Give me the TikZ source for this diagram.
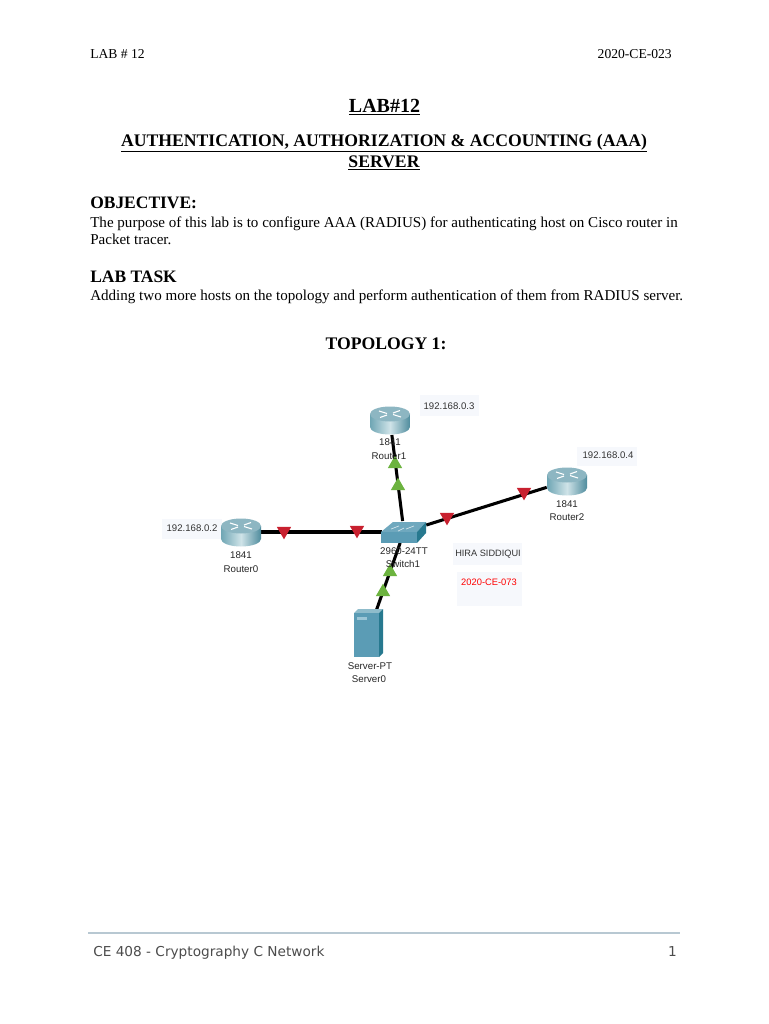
\documentclass[tikz,border=0pt]{standalone}
\usepackage{fontspec}
\setmainfont{Liberation Serif}
\newfontfamily\dgmfont{Liberation Sans}
\newfontfamily\footfont{DejaVu Sans}
\usetikzlibrary{shapes.geometric}
\definecolor{paleb}{HTML}{F6F8FC}
\definecolor{redt}{HTML}{C8202F}
\definecolor{greent}{HTML}{6CB33F}
\definecolor{rtop}{HTML}{8DB6C2}
\definecolor{rleft}{HTML}{6FA6B4}
\definecolor{rmid}{HTML}{CFE3E8}
\definecolor{rright}{HTML}{4F8C9D}
\definecolor{devtop}{HTML}{6FA8BE}
\definecolor{devfront}{HTML}{5B9CB5}
\definecolor{devside}{HTML}{27798F}
\definecolor{srvtop}{HTML}{8FBCCB}
\definecolor{bay}{HTML}{9CC6D6}
\definecolor{rulec}{HTML}{B8C8D2}
\tikzset{
  body/.style={anchor=base west,inner sep=0pt,font=\fontsize{11.3}{13}\selectfont},
  small/.style={anchor=base west,inner sep=0pt,font=\fontsize{10.2}{12}\selectfont},
  head/.style={anchor=base west,inner sep=0pt,font=\fontsize{13.1}{15}\selectfont\bfseries},
  ctitle/.style={anchor=base,inner sep=0pt,font=\fontsize{13.25}{15}\selectfont\bfseries},
  dev/.style={font=\dgmfont\fontsize{7.3}{8}\selectfont,inner sep=0pt,anchor=base,text=black!85},
  ip/.style={font=\dgmfont\fontsize{7.2}{8}\selectfont,inner sep=0pt,text=black!80},
  devbox/.style={inner sep=0pt,draw=none},
  link/.style={line width=2.3pt,black},
  tdown/.style={regular polygon,regular polygon sides=3,shape border rotate=180,fill=redt,inner sep=0pt,minimum size=12.5pt},
  tup/.style={regular polygon,regular polygon sides=3,fill=greent,inner sep=0pt,minimum size=12.5pt},
  pics/routericon/.style={code={
    \shade[left color=rleft,right color=rright,middle color=rmid,draw=none]
      (-20,-6) -- (-20,7) arc[start angle=180,end angle=0,x radius=20,y radius=7.5] -- (20,-6) -- cycle;
    \fill[rtop] (0,-6) ellipse[x radius=20,y radius=7.5];
    \draw[white,line width=.8pt] (-11,-9) -- (-3,-6.5) (11,-3) -- (3,-5.5) (-10,-2.5) -- (-3,-5) (10,-9.5) -- (3,-7);
  }}
}
\begin{document}
\begin{tikzpicture}[x=0.75pt,y=-0.75pt]
\useasboundingbox (0,0) rectangle (768,1024);
\fill[white] (0,0) rectangle (768,1024);

% page text
\node[small] (hl) at (90,59) {LAB \# 12};
\node[small,anchor=base east] (hr) at (672,59) {2020-CE-023};
\node[ctitle,font=\fontsize{15}{17}\selectfont\bfseries] (t1) at (384.5,112.5) {\underline{LAB\#12}};
\node[ctitle] (t2) at (384,146) {\underline{AUTHENTICATION, AUTHORIZATION \& ACCOUNTING (AAA)}};
\node[ctitle] (t3) at (384,167) {\underline{SERVER}};
\node[head] (obj) at (90,208) {OBJECTIVE:};
\node[body] (o1) at (90,227) {The purpose of this lab is to configure AAA (RADIUS) for authenticating host on Cisco router in};
\node[body] (o2) at (90,244) {Packet tracer.};
\node[head] (lt) at (90,282) {LAB TASK};
\node[body] (l1) at (90,300) {Adding two more hosts on the topology and perform authentication of them from RADIUS server.};
\node[ctitle] (topo) at (386,349) {TOPOLOGY 1:};

% label backgrounds
\fill[paleb] (162,519) rectangle (222,539);
\fill[paleb] (420,395) rectangle (479,416);
\fill[paleb] (577,447) rectangle (637,466);
\fill[paleb] (453,543) rectangle (522,565);
\fill[paleb] (457,572) rectangle (522,606);

% device anchors
\node[devbox,minimum width=30pt,minimum height=22pt] (r0) at (241,532) {};
\node[devbox,minimum width=30pt,minimum height=22pt] (r1) at (390,420) {};
\node[devbox,minimum width=30pt,minimum height=22pt] (r2) at (567,481) {};
\node[devbox,minimum width=33pt,minimum height=16pt] (sw) at (404,532) {};
\node[devbox,minimum width=22pt,minimum height=36pt] (srv) at (368,634) {};

% links
\draw[link] (r0) -- (sw);
\draw[link] (r1) -- (sw);
\draw[link] (r2) -- (sw);
\draw[link] (srv) -- (sw);

% routers
\pic at (241,532) {routericon};
\pic at (390,420) {routericon};
\pic at (567,481) {routericon};

% switch
\fill[devtop] (381,532) -- (393,522) -- (426,522) -- (417,532) -- cycle;
\fill[devfront] (381,532) rectangle (417,543);
\fill[devside] (417,532) -- (426,522) -- (426,533) -- (417,543) -- cycle;
\draw[white!70!devtop,line width=.5pt] (391,529) -- (399,526) (406,529) -- (414,526) (398,531) -- (404,528);

% server
\fill[srvtop] (354,613) -- (358,609) -- (383,609) -- (379,613) -- cycle;
\fill[devfront] (354,613) rectangle (379,657);
\fill[devside] (379,613) -- (383,609) -- (383,653) -- (379,657) -- cycle;
\fill[bay] (357,617) rectangle (367,620);

% link state triangles
\node[tdown] (a1) at (284,531) {};
\node[tdown] (a2) at (357,530) {};
\node[tdown] (a3) at (447,517) {};
\node[tdown] (a4) at (524,492) {};
\node[tup] (b1) at (395,464) {};
\node[tup] (b2) at (398,486) {};
\node[tup] (b3) at (390,572) {};
\node[tup] (b4) at (383,592) {};

% labels
\node[ip] (ip0) at (192,528) {192.168.0.2};
\node[ip] (ip1) at (449,406) {192.168.0.3};
\node[ip] (ip2) at (608,455) {192.168.0.4};
\node[ip,font=\dgmfont\fontsize{6.9}{8}\selectfont] (hira) at (488,554) {HIRA SIDDIQUI};
\node[ip,text=red,font=\dgmfont\fontsize{7}{8}\selectfont] (roll) at (489,582) {2020-CE-073};
\node[dev] (m0) at (241,558) {1841};
\node[dev] (n0) at (241,572) {Router0};
\node[dev] (m1) at (390,445) {1841};
\node[dev] (n1) at (389,459) {Router1};
\node[dev] (m2) at (567,507) {1841};
\node[dev] (n2) at (567,520) {Router2};
\node[dev] (m3) at (404,554) {2960-24TT};
\node[dev] (n3) at (403,567) {Switch1};
\node[dev] (m4) at (370,669) {Server-PT};
\node[dev] (n4) at (369,682) {Server0};

% footer
\coordinate (fa) at (88,933);
\coordinate (fb) at (680,933);
\draw[color=rulec,line width=.8pt] (fa) -- (fb);
\node[anchor=base west,inner sep=0pt,text=black!70,font=\footfont\fontsize{10.25}{12}\selectfont] (ft) at (93,956) {CE 408 - Cryptography C Network};
\node[anchor=base east,inner sep=0pt,text=black!70,font=\footfont\fontsize{10.25}{12}\selectfont] (pg) at (677,956) {1};
\end{tikzpicture}
\end{document}
